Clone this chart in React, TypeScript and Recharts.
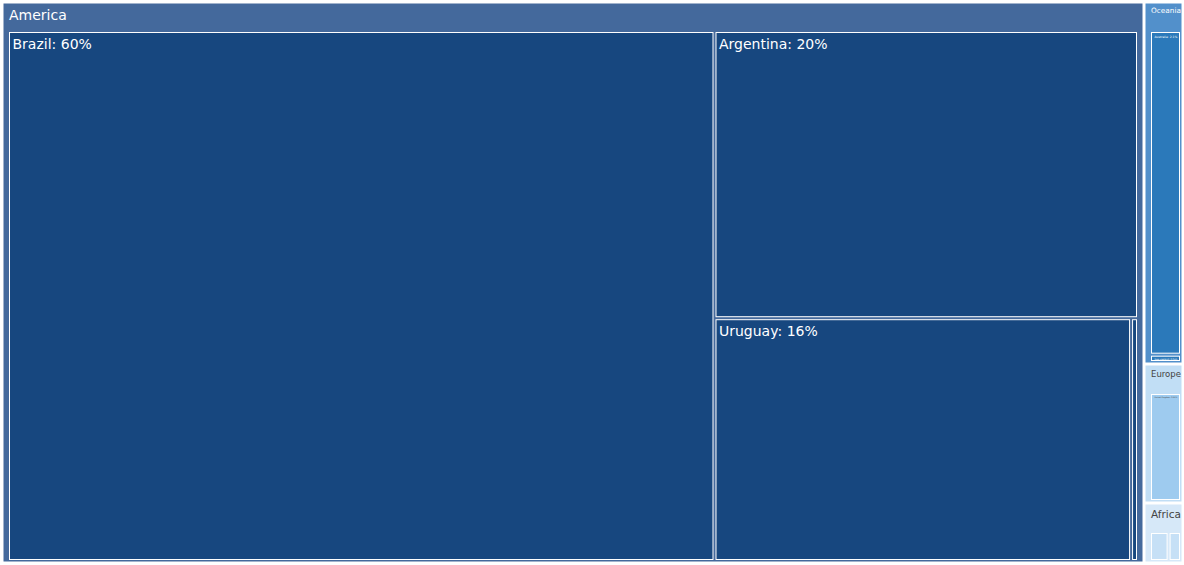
import { Treemap } from 'recharts';

// continents and their countries (share of the world total, %)
const continents = ['America', 'Oceania', 'Europe', 'Africa'];
const countries = ['Brazil', 'Argentina', 'Uruguay', 'Chile', 'Australia', 'New Zealand', 'United Kingdom', 'South Africa', 'Egypt'];
const countryContinent = ['America', 'America', 'America', 'America', 'Oceania', 'Oceania', 'Europe', 'Africa', 'Africa'];
const shares = [60.4, 19.6, 16.3, 0.3, 2.08, 0.05, 0.82, 0.21, 0.14];

const total = shares.reduce((a, b) => a + b, 0);

const data = continents.map((c) => ({
  name: c,
  children: countries
    .map((name, i) => ({ name, value: shares[i], continent: countryContinent[i] }))
    .filter((d) => d.continent === c),
}));

const headerFill: Record<string, string> = {
  America: '#44699c',
  Oceania: '#5290cb',
  Europe: '#c1def5',
  Africa: '#d6e8f8',
};
const leafFill: Record<string, string> = {
  America: '#17477f',
  Oceania: '#2b79ba',
  Europe: '#9ecbef',
  Africa: '#c6e0f6',
};
const lightText: Record<string, boolean> = { America: true, Oceania: true, Europe: false, Africa: false };
// boxes whose children sit side by side in the header-less inner area
const sideBySide: Record<string, boolean> = { Africa: true };

const FONT = '"DejaVu Sans", Verdana, sans-serif';

let measureCtx: CanvasRenderingContext2D | null = null;
function textWidth10(text: string) {
  if (!measureCtx) {
    measureCtx = document.createElement('canvas').getContext('2d');
    if (measureCtx) measureCtx.font = `10px ${FONT}`;
  }
  return measureCtx ? measureCtx.measureText(text).width : text.length * 6.2;
}

function fmtPct(v: number) {
  const p = (v / total) * 100;
  if (p >= 10) return `${Math.round(p)}%`;
  return `${parseFloat(p.toPrecision(2))}%`;
}

function fitFont(text: string, target: number, max: number) {
  return Math.min(max, (target / textWidth10(text)) * 10);
}

function TreeNode(props: any) {
  const { depth, x, y, width, height, name, root, value } = props;
  if (depth === 0 || width == null) return null;

  if (depth === 1) {
    const small = width < 100;
    const fs = small ? fitFont(name, width - 9, 14) : 14;
    const ins = 1.5;
    return (
      <g>
        <rect x={x + ins} y={y + ins} width={width - 2 * ins} height={height - 2 * ins} fill={headerFill[name]} stroke="none" />
        <text
          x={x + 7}
          y={y + (small ? 4 + fs : 5 + fs * 0.95)}
          fontSize={fs}
          fontFamily={FONT}
          fill={lightText[name] ? '#ffffff' : '#444444'}
        >
          {name}
        </text>
      </g>
    );
  }

  // depth 2: place inside the parent's inner box (below the header)
  let parent = root;
  if (!parent || parent.depth !== depth - 1) {
    const cx = x + width / 2;
    const cy = y + height / 2;
    parent = (root?.children || []).find(
      (p: any) => cx >= p.x && cx <= p.x + p.width && cy >= p.y && cy <= p.y + p.height,
    );
  }
  if (!parent) return null;
  const padL = 6;
  const padR = parent.width > 100 ? 6 : 2;
  const padT = 29;
  const padB = 2;
  const ix = parent.x + padL;
  const iy = parent.y + padT;
  const iw = parent.width - padL - padR;
  const ih = parent.height - padT - padB;
  const u0 = (x - parent.x) / parent.width;
  const v0 = (y - parent.y) / parent.height;
  const uw = width / parent.width;
  const vh = height / parent.height;
  const flip = sideBySide[parent.name];
  const nx = ix + (flip ? v0 : u0) * iw;
  const ny = iy + (flip ? u0 : v0) * ih;
  const nw = (flip ? vh : uw) * iw;
  const nh = (flip ? uw : vh) * ih;
  const ins = 1.5;
  const cont = parent.name;
  const label = `${name}: ${fmtPct(value)}`;
  const fs = fitFont(label, nw - 8, 14);
  return (
    <g>
      <rect
        x={nx + ins}
        y={ny + ins}
        width={Math.max(0, nw - 2 * ins)}
        height={Math.max(0, nh - 2 * ins)}
        fill={leafFill[cont]}
        stroke="#ffffff"
        strokeWidth={1}
      />
      {fs >= 1.5 && (
        <text
          x={nx + ins + 3}
          y={ny + ins + 2 + fs}
          fontSize={fs}
          fontFamily={FONT}
          fill={lightText[cont] ? '#ffffff' : '#444444'}
        >
          {label}
        </text>
      )}
    </g>
  );
}

export default function App() {
  return (
    <div style={{ position: 'absolute', left: 2, top: 2, width: 1181, height: 561 }}>
      <Treemap
        width={1181}
        height={561}
        data={data}
        dataKey="value"
        nameKey="name"
        type="flat"
        aspectRatio={1}
        isAnimationActive={false}
        isUpdateAnimationActive={false}
        content={<TreeNode />}
      />
    </div>
  );
}
